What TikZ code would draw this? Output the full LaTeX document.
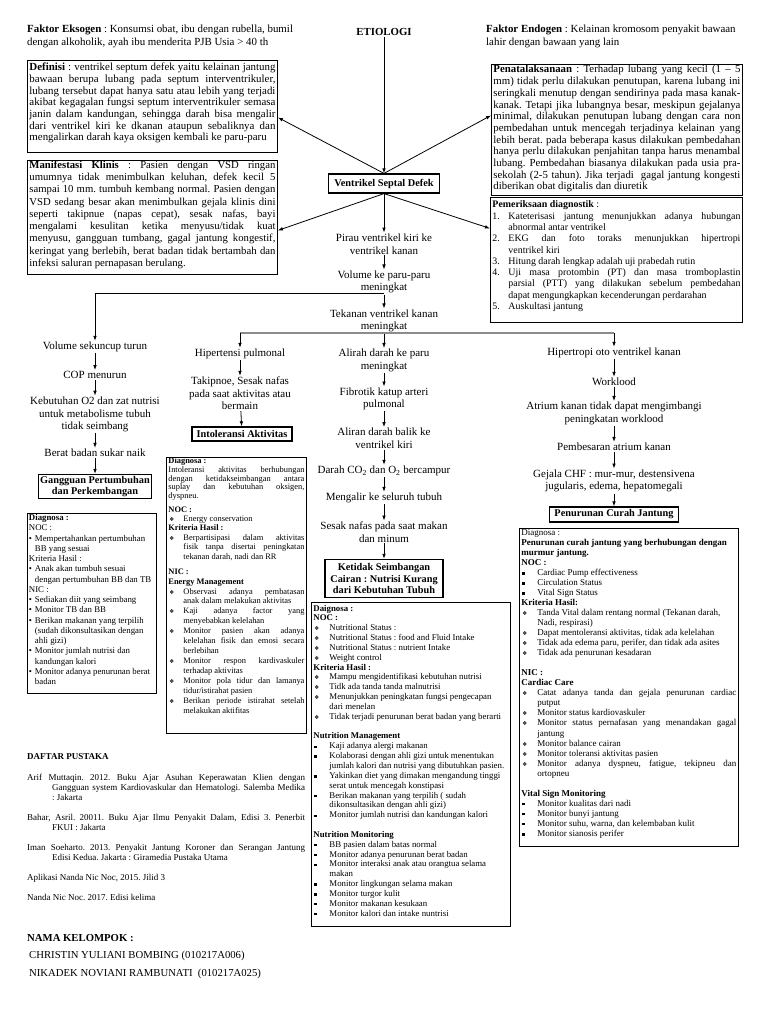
\documentclass[tikz,border=0pt]{standalone}
\usepackage{fontspec}
\setmainfont{Liberation Serif}
\newfontfamily\djv{DejaVu Sans}
\usetikzlibrary{arrows.meta,calc}

\newcommand\jln[1]{\hbox to \hsize{#1}}
\newcommand\rln[1]{\hbox to \hsize{#1\hfil}}
\newcommand\dmd{{\djv\fontsize{5.5}{6}\selectfont\char"2756}}
\newcommand\sqb{\rule[0.8pt]{2.4pt}{2.4pt}}
\newcommand\xjb[3]{\hbox to \hsize{\makebox[#1][l]{#2}#3}}
\newcommand\xrb[3]{\hbox to \hsize{\makebox[#1][l]{#2}#3\hfil}}
\newcommand\xDj[2]{\xjb{#1}{\hspace{1pt}\dmd}{#2}}
\newcommand\xDr[2]{\xrb{#1}{\hspace{1pt}\dmd}{#2}}
\newcommand\xCj[2]{\xjb{#1}{}{#2}}
\newcommand\xCr[2]{\xrb{#1}{}{#2}}
\newcommand\xSr[2]{\xrb{#1}{\hspace{1pt}\sqb}{#2}}
\newcommand\xBr[2]{\xrb{#1}{\textbullet}{#2}}

\tikzset{
  bx/.style={draw, line width=0.9pt, inner xsep=2pt, inner ysep=0pt, anchor=north west},
  fl/.style={align=center, inner sep=1pt, font=\fontsize{11}{12.6}\selectfont},
  tb/.style={draw, line width=1.2pt, align=center, inner sep=1pt, font=\bfseries\fontsize{10.3}{11.6}\selectfont},
  ar/.style={-{Latex[length=5pt,width=3.6pt]}, line width=0.8pt},
  ln/.style={line width=0.8pt},
  hl/.style={line width=1.5pt, black!45},
}

\begin{document}
\frenchspacing
\begin{tikzpicture}[x=1pt,y=-1pt]
\fill[white] (0,0) rectangle (768,1024);
\useasboundingbox (0,0) rectangle (768,1024);

% ---------- top texts ----------
\node[anchor=north west, inner sep=0] (eks) at (27,25) {\vbox{\hsize=280pt\fontsize{10.9}{13}\selectfont
\rln{\textbf{Faktor Eksogen} : Konsumsi obat, ibu dengan rubella, bumil}
\rln{dengan alkoholik, ayah ibu menderita PJB Usia > 40 th}}};
\node[font=\bfseries\fontsize{10.8}{12}\selectfont, inner sep=1pt] (etio) at (384,32) {ETIOLOGI};
\node[anchor=north west, inner sep=0] (endo) at (486,25) {\vbox{\hsize=270pt\fontsize{10.9}{13}\selectfont
\rln{\textbf{Faktor Endogen} : Kelainan kromosom penyakit bawaan}
\rln{lahir dengan bawaan yang lain}}};

% ---------- Definisi ----------
\node[bx] (def) at (27,60) {\vbox to 92pt{\hsize=246pt\fontsize{10.9}{11.7}\selectfont\kern2.5pt
\jln{\textbf{Definisi} : ventrikel septum defek yaitu kelainan jantung}
\jln{bawaan berupa lubang pada septum interventrikuler,}
\jln{lubang tersebut dapat hanya satu atau lebih yang terjadi}
\jln{akibat kegagalan fungsi septum interventrikuler semasa}
\jln{janin dalam kandungan, sehingga darah bisa mengalir}
\jln{dari ventrikel kiri ke dkanan ataupun sebaliknya dan}
\rln{mengalirkan darah kaya oksigen kembali ke paru-paru}\vfil}};

% ---------- Manifestasi ----------
\node[bx] (man) at (27,160) {\vbox to 114pt{\hsize=246pt\fontsize{10.7}{12.25}\selectfont\kern0.5pt
\jln{\textbf{Manifestasi Klinis} : Pasien dengan VSD ringan}
\jln{umumnya tidak menimbulkan keluhan, defek kecil 5}
\jln{sampai 10 mm. tumbuh kembang normal. Pasien dengan}
\jln{VSD sedang besar akan menimbulkan gejala klinis dini}
\jln{seperti takipnue (napas cepat), sesak nafas, bayi}
\jln{mengalami kesulitan ketika menyusu/tidak kuat}
\jln{menyusu, gangguan tumbang, gagal jantung kongestif,}
\jln{keringat yang berlebih, berat badan tidak bertambah dan}
\rln{infeksi saluran pernapasan berulang.}\vfil}};

% ---------- Penatalaksanaan ----------
\node[bx] (pen) at (491,64) {\vbox to 131pt{\hsize=247pt\fontsize{10.8}{11.7}\selectfont\kern1pt
\jln{\textbf{Penatalaksanaan} : Terhadap lubang yang kecil (1 -- 5}
\jln{mm) tidak perlu dilakukan penutupan, karena lubang ini}
\jln{seringkali menutup dengan sendirinya pada masa kanak-}
\jln{kanak. Tetapi jika lubangnya besar, meskipun gejalanya}
\jln{minimal, dilakukan penutupan lubang dengan cara non}
\jln{pembedahan untuk mencegah terjadinya kelainan yang}
\jln{lebih berat. pada beberapa kasus dilakukan pembedahan}
\jln{hanya perlu dilakukan penjahitan tanpa harus menambal}
\jln{lubang. Pembedahan biasanya dilakukan pada usia pra-}
\jln{sekolah (2-5 tahun). Jika terjadi\ \ gagal jantung kongesti}
\rln{diberikan obat digitalis dan diuretik}\vfil}};

% ---------- Pemeriksaan ----------
\node[bx] (pem) at (490,197) {\vbox to 125pt{\hsize=248pt\fontsize{9.9}{11.3}\selectfont\kern3.5pt
\rln{\textbf{Pemeriksaan diagnostik} :}
\xjb{16pt}{1.}{Kateterisasi jantung menunjukkan adanya hubungan}
\xrb{16pt}{}{abnormal antar ventrikel}
\xjb{16pt}{2.}{EKG dan foto toraks menunjukkan hipertropi}
\xrb{16pt}{}{ventrikel kiri}
\xrb{16pt}{3.}{Hitung darah lengkap adalah uji prabedah rutin}
\xjb{16pt}{4.}{Uji masa protombin (PT) dan masa tromboplastin}
\xjb{16pt}{}{parsial (PTT) yang dilakukan sebelum pembedahan}
\xrb{16pt}{}{dapat mengungkapkan kecenderungan perdarahan}
\xrb{16pt}{5.}{Auskultasi jantung}\vfil}};

% ---------- central node ----------
\node[tb, minimum width=111pt, minimum height=19pt] (vsd) at (384,183.5) {Ventrikel Septal Defek};

\draw[ar] (etio) -- (vsd);
\draw[ar] (vsd.north) -- ([yshift=-11pt]def.east);
\draw[ar] (vsd.north) -- ([yshift=14.5pt]pen.west);
\draw[ar] (vsd.south) -- ([yshift=-13pt]man.east);
\draw[ar] (vsd.south) -- ([yshift=31.5pt]pem.west);

% ---------- centre chain ----------
\node[fl] (pirau) at (384,244) {Pirau ventrikel kiri ke\\ventrikel kanan};
\node[fl] (volp) at (384,282) {Volume ke paru-paru\\meningkat};
\node[fl] (tek) at (384,321) {Tekanan ventrikel kanan\\meningkat};
\coordinate (j1) at (384,293);
\coordinate (j1l) at (95,293);
\coordinate (j2l) at (240,333);
\coordinate (j2r) at (614,333);

\node[fl] (ali) at (384,360.5) {Alirah darah ke paru\\meningkat};
\node[fl] (fib) at (384,399) {Fibrotik katup arteri\\pulmonal};
\node[fl] (alb) at (384,438.5) {Aliran darah balik ke\\ventrikel kiri};
\node[fl] (darah) at (384,471) {Darah CO\textsubscript{2} dan O\textsubscript{2} bercampur};
\node[fl] (meng) at (384,498) {Mengalir ke seluruh tubuh};
\node[fl] (sesak) at (384,532) {Sesak nafas pada saat makan\\dan minum};
\node[tb, minimum width=118pt, minimum height=38pt] (ks) at (384,578.5) {Ketidak Seimbangan\\Cairan : Nutrisi Kurang\\dari Kebutuhan Tubuh};

% left chain
\node[fl] (vst) at (95,347) {Volume sekuncup turun};
\node[fl] (cop) at (95,375) {COP menurun};
\node[fl] (keb) at (95,414.5) {Kebutuhan O2 dan zat nutrisi\\untuk metabolisme tubuh\\tidak seimbang};
\node[fl] (bb) at (95,453) {Berat badan sukar naik};
\node[tb, minimum width=113pt, minimum height=24pt] (gg) at (95,486.5) {Gangguan Pertumbuhan\\dan Perkembangan};

% mid-left chain
\node[fl] (hip) at (240,354) {Hipertensi pulmonal};
\node[fl] (tak) at (240,393.5) {Takipnoe, Sesak nafas\\pada saat aktivitas atau\\bermain};
\node[tb, minimum width=100pt, minimum height=14pt] (int) at (242,434) {Intoleransi Aktivitas};

% right chain
\node[fl] (hipt) at (614,353) {Hipertropi oto ventrikel kanan};
\node[fl] (work) at (614,382) {Worklood};
\node[fl] (atr) at (614,413.5) {Atrium kanan tidak dapat mengimbangi\\peningkatan worklood};
\node[fl] (pemb) at (614,447) {Pembesaran atrium kanan};
\node[fl] (gej) at (614,481) {Gejala CHF : mur-mur, destensivena\\jugularis, edema, hepatomegali};
\node[tb, minimum width=129pt, minimum height=15pt] (pcj) at (614,514.5) {Penurunan Curah Jantung};

% connectors
\draw[ar] (vsd) -- (pirau);
\draw[ar] (pirau) -- (volp);
\draw[ar] (volp) -- (tek);
\draw[ln] (j1) -- (j1l);
\draw[ar] (j1l) -- (vst);
\draw[ar] (vst) -- (cop);
\draw[ar] (cop) -- (keb);
\draw[ar] (keb) -- (bb);
\draw[ar] (bb) -- (gg);
\draw[hl] (j2l) -- (j2r);
\draw[ar] (tek) -- (ali);
\draw[ar] (ali) -- (fib);
\draw[ar] (fib) -- (alb);
\draw[ar] (alb) -- (darah);
\draw[ar] (darah) -- (meng);
\draw[ar] (meng) -- (sesak);
\draw[ar] (sesak) -- (ks);
\draw[ar] (j2l) -- (hip);
\draw[ar] (hip) -- (tak);
\draw[ar] (tak) -- (int);
\draw[ar] (j2r) -- (hipt);
\draw[ar] (hipt) -- (work);
\draw[ar] (work) -- (atr);
\draw[ar] (atr) -- (pemb);
\draw[ar] (pemb) -- (gej);
\draw[ar] (gej) -- (pcj);

% ---------- Diagnosis boxes ----------
\node[bx, inner xsep=1.5pt] (dg1) at (27,513) {\vbox to 180pt{\hsize=126pt\fontsize{8.8}{10.25}\selectfont\kern1pt
\rln{\textbf{Diagnosa :}}
\rln{NOC :}
\xBr{6pt}{Mempertahankan pertumbuhan}
\xCr{6pt}{BB yang sesuai}
\rln{Kriteria Hasil :}
\xBr{6pt}{Anak akan tumbuh sesuai}
\xCr{6pt}{dengan pertumbuhan BB dan TB}
\rln{NIC :}
\xBr{6pt}{Sediakan diit yang seimbang}
\xBr{6pt}{Monitor TB dan BB}
\xBr{6pt}{Berikan makanan yang terpilih}
\xCr{6pt}{(sudah dikonsultasikan dengan}
\xCr{6pt}{ahli gizi)}
\xBr{6pt}{Monitor jumlah nutrisi dan}
\xCr{6pt}{kandungan kalori}
\xBr{6pt}{Monitor adanya penurunan berat}
\xCr{6pt}{badan}\vfil}};

\node[bx] (dg2) at (166,457) {\vbox to 276pt{\hsize=136pt\fontsize{8.4}{8.7}\selectfont\kern0.5pt
\rln{\textbf{Diagnosa :}}
\jln{Intoleransi aktivitas berhubungan}
\jln{dengan ketidakseimbangan antara}
\jln{suplay dan kebutuhan oksigen,}
\rln{dyspneu.}
\baselineskip=9.4pt \kern4.2pt
\rln{\textbf{NOC :}}
\xDr{15pt}{Energy conservation}
\rln{\textbf{Kriteria Hasil :}}
\xDj{15pt}{Berpartisipasi dalam aktivitas}
\xCj{15pt}{fisik tanpa disertai peningkatan}
\xCr{15pt}{tekanan darah, nadi dan RR}
\kern5.6pt
\rln{\textbf{NIC :}}
\baselineskip=9.93pt
\rln{\textbf{Energy Management}}
\xDj{15pt}{Observasi adanya pembatasan}
\xCr{15pt}{anak dalam melakukan aktivitas}
\xDj{15pt}{Kaji adanya factor yang}
\xCr{15pt}{menyebabkan kelelahan}
\xDj{15pt}{Monitor pasien akan adanya}
\xCj{15pt}{kelelahan fisik dan emosi secara}
\xCr{15pt}{berlebihan}
\xDj{15pt}{Monitor respon kardivaskuler}
\xCr{15pt}{terhadap aktivitas}
\xDj{15pt}{Monitor pola tidur dan lamanya}
\xCr{15pt}{tidur/istirahat pasien}
\xDj{15pt}{Berikan periode istirahat setelah}
\xCr{15pt}{melakukan aktifitas}\vfil}};

\node[bx] (dg3) at (311,602) {\vbox to 324pt{\hsize=195pt\fontsize{8.8}{9.84}\selectfont\kern2.5pt
\rln{\textbf{Daignosa :}}
\rln{\textbf{NOC :}}
\xDr{16pt}{Nutritional Status :}
\xDr{16pt}{Nutritional Status : food and Fluid Intake}
\xDr{16pt}{Nutritional Status : nutrient Intake}
\xDr{16pt}{Weight control}
\rln{\textbf{Kriteria Hasil :}}
\xDr{16pt}{Mampu mengidentifikasi kebutuhan nutrisi}
\xDr{16pt}{Tidk ada tanda tanda malnutrisi}
\xDr{16pt}{Menunjukkan peningkatan fungsi pengecapan}
\xCr{16pt}{dari menelan}
\xDr{16pt}{Tidak terjadi penurunan berat badan yang berarti}
\rln{}
\rln{\textbf{Nutrition Management}}
\xSr{16pt}{Kaji adanya alergi makanan}
\xSr{16pt}{Kolaborasi dengan ahli gizi untuk menentukan}
\xCr{16pt}{jumlah kalori dan nutrisi yang dibutuhkan pasien.}
\xSr{16pt}{Yakinkan diet yang dimakan mengandung tinggi}
\xCr{16pt}{serat untuk mencegah konstipasi}
\xSr{16pt}{Berikan makanan yang terpilih ( sudah}
\xCr{16pt}{dikonsultasikan dengan ahli gizi)}
\xSr{16pt}{Monitor jumlah nutrisi dan kandungan kalori}
\rln{}
\rln{\textbf{Nutrition Monitoring}}
\xSr{16pt}{BB pasien dalam batas normal}
\xSr{16pt}{Monitor adanya penurunan berat badan}
\xSr{16pt}{Monitor interaksi anak atau orangtua selama}
\xCr{16pt}{makan}
\xSr{16pt}{Monitor lingkungan selama makan}
\xSr{16pt}{Monitor turgor kulit}
\xSr{16pt}{Monitor makanan kesukaan}
\xSr{16pt}{Monitor kalori dan intake nuntrisi}\vfil}};

\node[bx] (dg4) at (519,528) {\vbox to 318pt{\hsize=215pt\fontsize{9}{10.03}\selectfont\kern1pt
\rln{Diagnosa :}
\rln{\textbf{Penurunan curah jantung yang berhubungan dengan}}
\rln{\textbf{murmur jantung.}}
\rln{\textbf{NOC :}}
\xSr{16pt}{Cardiac Pump effectiveness}
\xSr{16pt}{Circulation Status}
\xSr{16pt}{Vital Sign Status}
\rln{\textbf{Kriteria Hasil:}}
\xDr{16pt}{Tanda Vital dalam rentang normal (Tekanan darah,}
\xCr{16pt}{Nadi, respirasi)}
\xDr{16pt}{Dapat mentoleransi aktivitas, tidak ada kelelahan}
\xDr{16pt}{Tidak ada edema paru, perifer, dan tidak ada asites}
\xDr{16pt}{Tidak ada penurunan kesadaran}
\rln{}
\rln{\textbf{NIC :}}
\rln{\textbf{Cardiac Care}}
\xDj{16pt}{Catat adanya tanda dan gejala penurunan cardiac}
\xCr{16pt}{putput}
\xDr{16pt}{Monitor status kardiovaskuler}
\xDj{16pt}{Monitor status pernafasan yang menandakan gagal}
\xCr{16pt}{jantung}
\xDr{16pt}{Monitor balance cairan}
\xDr{16pt}{Monitor toleransi aktivitas pasien}
\xDj{16pt}{Monitor adanya dyspneu, fatigue, tekipneu dan}
\xCr{16pt}{ortopneu}
\rln{}
\rln{\textbf{Vital Sign Monitoring}}
\xSr{16pt}{Monitor kualitas dari nadi}
\xSr{16pt}{Monitor bunyi jantung}
\xSr{16pt}{Monitor suhu, warna, dan kelembaban kulit}
\xSr{16pt}{Monitor sianosis perifer}\vfil}};

% ---------- references ----------
\node[anchor=north west, inner sep=0] (dp) at (27,753) {\vbox{\hsize=278pt\fontsize{9}{10}\selectfont
\rln{\textbf{DAFTAR PUSTAKA}}
\kern11pt
\jln{Arif Muttaqin. 2012. Buku Ajar Asuhan Keperawatan Klien dengan}
\xjb{25pt}{}{Gangguan system Kardiovaskular dan Hematologi. Salemba Medika}
\xrb{25pt}{}{: Jakarta}
\kern10pt
\jln{Bahar, Asril. 20011. Buku Ajar Ilmu Penyakit Dalam, Edisi 3. Penerbit}
\xrb{25pt}{}{FKUI : Jakarta}
\kern10pt
\jln{Iman Soeharto. 2013. Penyakit Jantung Koroner dan Serangan Jantung}
\xrb{25pt}{}{Edisi Kedua. Jakarta : Giramedia Pustaka Utama}
\kern10pt
\rln{Aplikasi Nanda Nic Noc, 2015. Jilid 3}
\kern10pt
\rln{Nanda Nic Noc. 2017. Edisi kelima}}};

\node[anchor=north west, inner sep=0] (nama) at (27,934) {\vbox{\hsize=300pt\fontsize{10.7}{17.5}\selectfont
\rln{\textbf{NAMA KELOMPOK :}}
\rln{\hspace{2pt}CHRISTIN YULIANI BOMBING (010217A006)}
\rln{\hspace{2pt}NIKADEK NOVIANI RAMBUNATI\ \ (010217A025)}}};
\end{tikzpicture}
\end{document}
